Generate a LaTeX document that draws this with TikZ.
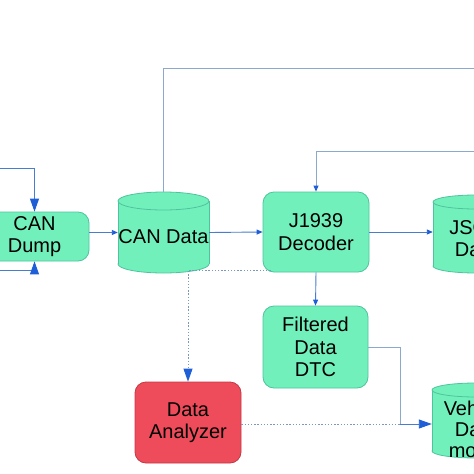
\documentclass[tikz,border=0pt]{standalone}
\usepackage{fontspec}
\setmainfont{Liberation Sans}
\usetikzlibrary{arrows.meta}
\definecolor{mint}{RGB}{114,240,188}
\definecolor{mintedge}{RGB}{78,196,156}
\definecolor{redfill}{RGB}{238,76,90}
\definecolor{rededge}{RGB}{196,56,70}
\definecolor{linkblue}{RGB}{72,125,205}
\definecolor{paleblue}{RGB}{140,168,204}
\definecolor{tipblue}{RGB}{30,95,215}
\definecolor{dotgray}{RGB}{125,152,190}
\begin{document}
\begin{tikzpicture}[x=1pt,y=-1pt,
  every node/.style={font=\fontsize{20pt}{22.5pt}\selectfont, align=center, inner sep=0pt},
  procbox/.style={draw=mintedge, fill=mint, rounded corners=11pt, line width=0.8pt},
  alertbox/.style={draw=rededge, fill=redfill, rounded corners=11pt, line width=0.8pt},
  cylfill/.style={fill=mint},
  cyledge/.style={draw=mintedge, line width=0.8pt},
  cylarea/.style={minimum width=#1, shape=rectangle},
  link/.style={draw=linkblue, line width=0.9pt},
  feed/.style={draw=paleblue, line width=1pt},
  dotlink/.style={draw=dotgray, line width=1pt, dash pattern=on 1.4pt off 1.8pt},
  smalltip/.style={-{Triangle[length=6pt,width=5pt,color=tipblue]}},
  bigtip/.style={-{Triangle[length=13pt,width=9pt,color=tipblue]}},
]
\useasboundingbox (0,0) rectangle (474,474);
\fill[white] (0,0) rectangle (474,474);
\clip (0,0) rectangle (474,474);

% ---- cylinders (drawn shapes) ----
% CAN Data
\path[cylfill, cyledge] (163.5,264) ellipse[x radius=45.5, y radius=9];
\fill[mint] (118,201) rectangle (209,264);
\draw[cyledge] (118,201) -- (118,264) (209,201) -- (209,264);
\path[cylfill, cyledge] (163.5,201) ellipse[x radius=45.5, y radius=9];
% JSON Data
\path[cylfill, cyledge] (476,266) ellipse[x radius=43, y radius=7];
\fill[mint] (433,202) rectangle (519,266);
\draw[cyledge] (433,202) -- (433,266) (519,202) -- (519,266);
\path[cylfill, cyledge] (476,202) ellipse[x radius=43, y radius=7];
% Vehicle Data model
\path[cylfill, cyledge] (476,451) ellipse[x radius=44, y radius=7];
\fill[mint] (432,390) rectangle (520,451);
\draw[cyledge] (432,390) -- (432,451) (520,390) -- (520,451);
\path[cylfill, cyledge] (476,390) ellipse[x radius=44, y radius=7];

% ---- nodes ----
\node[procbox, minimum width=109pt, minimum height=49pt] (dump) at (34.5,236.5) {CAN\\Dump};
\node[procbox, minimum width=106pt, minimum height=80pt] (dec) at (316,232) {J1939\\Decoder};
\node[procbox, minimum width=105pt, minimum height=82pt] (filt) at (315.5,347) {Filtered\\Data\\DTC};
\node[alertbox, minimum width=106pt, minimum height=81pt] (ana) at (188,422.5) {Data\\Analyzer};

\node[cylarea=91pt, minimum height=81pt] (candata) at (163.5,232.5) {};
\node (candatatxt) at (163.5,237) {CAN Data};
\node[cylarea=86pt, minimum height=78pt] (json) at (476,234) {};
\node (jsontxt) at (476,238.5) {JSON\\Data};
\node[cylarea=88pt, minimum height=75pt] (veh) at (476,420.5) {};
\node[font=\fontsize{20pt}{21pt}\selectfont] (vehtxt) at (476,429) {Vehicle\\Data\\model};

% ---- free ends ----
\coordinate (inTop) at (-2,168);
\coordinate (inBot) at (-2,270);
\coordinate (topEnd) at (480,68);
\coordinate (midEnd) at (480,151);
\coordinate (joint) at (400,424);

% ---- connectors ----
\draw[link, bigtip] (inTop) -| (dump.north);
\draw[link, bigtip] (inBot) -| (dump.south);
\draw[link, smalltip] (dump.east |- candata.west) -- (candata.west);
\draw[link, smalltip] (candata.east) -- (dec.west);
\draw[link, smalltip] (dec.east) -- (dec.east -| json.west);
\draw[feed] (candata.north) |- (topEnd);
\draw[feed, smalltip] (midEnd) -| (dec.north);
\draw[link, smalltip] (dec.south) -- (filt.north);
\draw[feed] (filt.east) -| (joint);
\draw[link, bigtip] (joint) -- (joint -| veh.west);
\draw[dotlink, bigtip] ([xshift=8pt,yshift=2pt]dec.south west) -| (ana.north);
\draw[dotlink] (ana.east |- joint) -- (joint);
\end{tikzpicture}
\end{document}
